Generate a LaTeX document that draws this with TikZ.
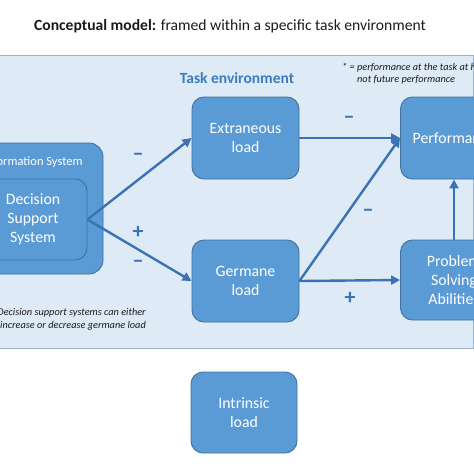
\documentclass[tikz,border=0pt]{standalone}
\usepackage{fontspec}
\setmainfont{Carlito}
\usetikzlibrary{arrows.meta}
\definecolor{boxfill}{HTML}{5B9BD5}
\definecolor{boxline}{HTML}{41719C}
\definecolor{panelfill}{HTML}{DEEBF7}
\definecolor{panelline}{HTML}{9DB3CC}
\definecolor{arrowc}{HTML}{3A72B3}
\definecolor{headc}{HTML}{3B7CC0}
\definecolor{titlec}{HTML}{1A1A1A}
\begin{document}
\begin{tikzpicture}[x=1pt,y=-1pt,
  box/.style={draw=boxline, fill=boxfill, line width=0.9pt, rounded corners=12pt,
    text=white, font=\fontsize{15.8}{19}\selectfont, align=center,
    minimum width=107pt, minimum height=82pt, inner sep=0pt},
  link/.style={draw=arrowc, line width=2.4pt, -{Triangle[length=9pt,width=9pt]}},
  sign/.style={text=arrowc, font=\fontsize{22}{22}\selectfont\bfseries, inner sep=0pt},
  note/.style={text=titlec, font=\fontsize{10.3}{13}\selectfont\itshape, inner sep=0pt},
]
\useasboundingbox (0,0) rectangle (474,474);
\clip (0,0) rectangle (474,474);

% title
\node[text=titlec, font=\fontsize{15.6}{18}\selectfont, inner sep=0pt] (title) at (230,26)
  {\textbf{Conceptual model:} framed within a specific task environment};

% task environment panel
\fill[panelfill] (-20,55) rectangle (473,348);
\draw[panelline, line width=0.9pt] (-20,55) -- (473,55) -- (473,348) -- (-20,348);
\node[text=headc, font=\fontsize{15.5}{18}\selectfont\bfseries, inner sep=0pt] (envlabel) at (237,78) {Task environment};
\node[note, anchor=west] (star1) at (342,68) {* = performance at the task at hand};
\node[note, anchor=west] (star2) at (357,80) {not future performance};

% information system with the decision support system inside
\node[box, minimum width=140pt, minimum height=131pt, rounded corners=14pt] (infosys) at (33,208.5) {};
\node[text=white, font=\fontsize{12.5}{14}\selectfont, inner sep=0pt] (infolabel) at (33,162) {Information System};
\node[box, minimum width=108pt, minimum height=81pt] (dss) at (33,219.5) {Decision\\Support\\System};
\node[note, align=right, anchor=east] (dssnote) at (146,319.5)
  {*Decision support systems can either\\increase or decrease germane load};

% load and outcome boxes
\node[box] (extr) at (245.5,138) {Extraneous\\load};
\node[box] (germ) at (245.5,281) {Germane\\load};
\node[box] (perf) at (454,138) {Performance};
\node[box, minimum height=80pt] (prob) at (454,280) {Problem\\Solving\\Abilities};
\node[box, minimum width=106pt, minimum height=81pt] (intr) at (244,412.5) {Intrinsic\\load};

% relations
\draw[link] (dss.east) -- (extr.west);
\draw[link] (dss.east) -- (germ.west);
\draw[link] (extr.east) -- (perf.west);
\draw[link] (germ.east) -- (perf.west);
\draw[link] (germ.east) -- (prob.west);
\draw[link] (prob.north) -- (perf.south);

% signs of the effects
\node[sign] (s1) at (138,157) {–};
\node[sign] (s2) at (138,232) {+};
\node[sign] (s3) at (138,264) {–};
\node[sign] (s4) at (349,120) {–};
\node[sign] (s5) at (368,213) {–};
\node[sign] (s6) at (350,298) {+};
\end{tikzpicture}
\end{document}
